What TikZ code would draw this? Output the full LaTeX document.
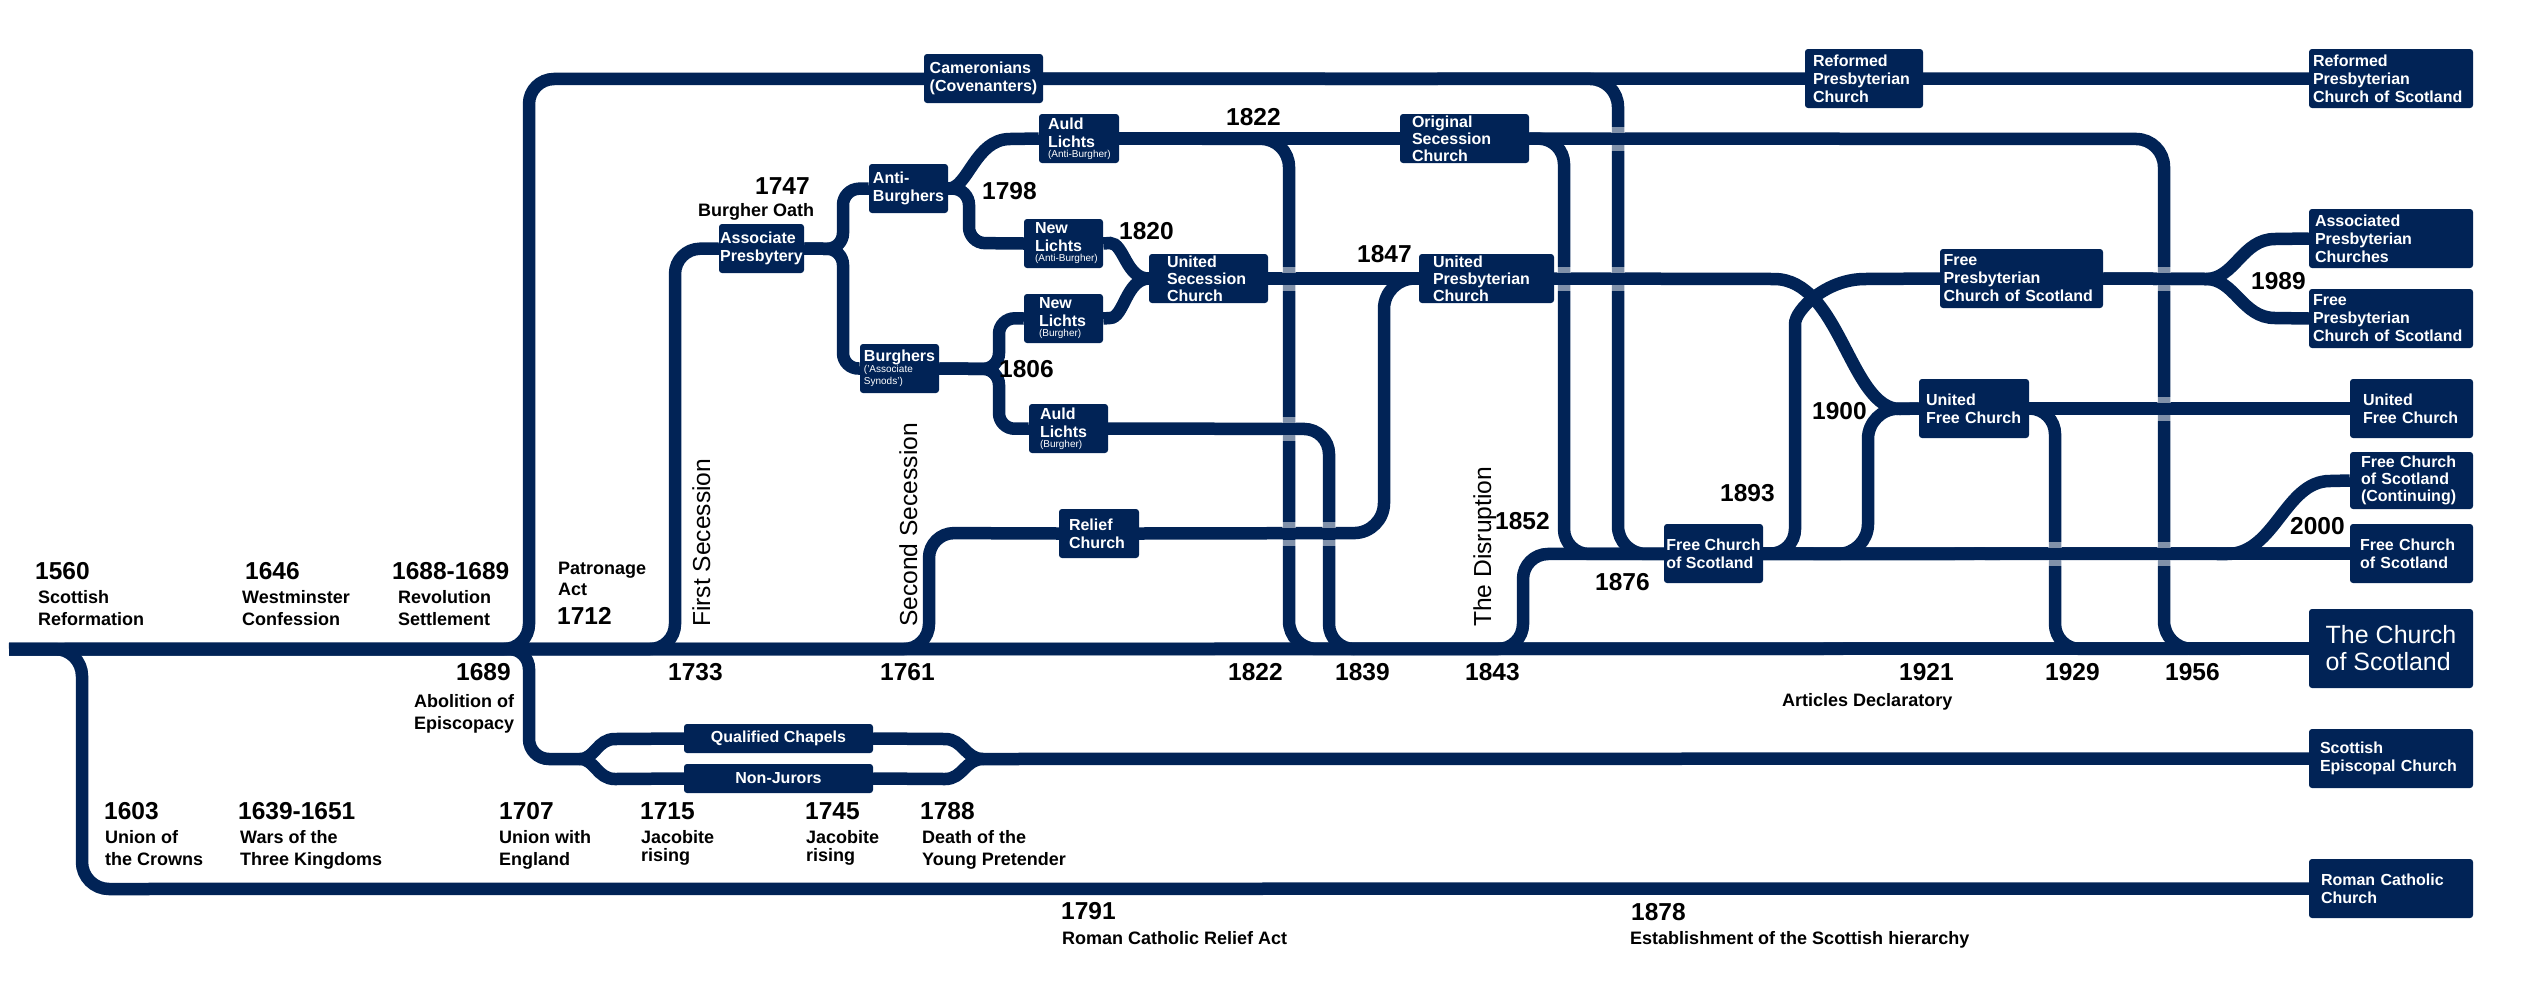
\documentclass[tikz,border=0pt]{standalone}
\usepackage{fontspec}
\setmainfont{Liberation Sans}
\usepackage{tikz}
\usetikzlibrary{positioning,backgrounds}
\definecolor{navy}{RGB}{1,35,86}
\newcommand{\churchnote}[1]{\mbox{\mdseries\fontsize{10}{11}\selectfont #1}}
\hyphenpenalty=10000
\exhyphenpenalty=10000

\begin{document}
\begin{tikzpicture}
  [
    x=1pt, y=-1pt,
    Church/.style={rectangle, rounded corners=3pt, fill=navy, text=white, font=\bfseries\fontsize{16}{18}\selectfont, align=left, inner sep=0pt},
    Year/.style={font=\bfseries\fontsize{24.5}{26}\selectfont, anchor=north west, inner sep=0pt},
    Note/.style={font=\bfseries\fontsize{18}{22.5}\selectfont, anchor=north west, inner sep=0pt, align=left},
    Event/.style={font=\fontsize{24.6}{26}\selectfont, rotate=90, anchor=base west, inner sep=0pt},
    Track/.style={draw=navy, line width=12.5pt},
    Fade/.style={fill=white, fill opacity=0.5}
  ]
  \useasboundingbox (0,0) rectangle (2527,994);

  % Nodes
  \coordinate (start) at (9,649);
  \coordinate (epsplit) at (580,759);
  \coordinate (epjoin) at (983,759);

  \node[Church, minimum width=119, minimum height=49] (cameronians) at (983.5,78.5) {Cameronians\\(Covenanters)};
  \node[Church, minimum width=118, minimum height=59, text width=102] (rpc) at (1864,78.5) {Reformed\\Presbyterian\\Church};
  \node[Church, minimum width=164, minimum height=59, text width=156] (rpcs) at (2391,78.5) {Reformed\\Presbyterian\\Church of Scotland};

  \node[Church, minimum width=85, minimum height=49] (ap) at (761.5,248.5) {Associate\\Presbytery};
  \node[Church, minimum width=79, minimum height=49] (antib) at (908.5,188.5) {Anti-\\Burghers};
  \node[Church, minimum width=79, minimum height=49] (burghers) at (899.5,368.5) {Burghers\\[-7pt]\churchnote{('Associate}\\[-6pt]\churchnote{Synods')}};
  \node[Church, minimum width=80, minimum height=49, text width=62] (alab) at (1079,138.5) {Auld\\Lichts\\[-8pt]\churchnote{(Anti-Burgher)}};
  \node[Church, minimum width=79, minimum height=49, text width=57] (nlab) at (1063.5,243.5) {New\\Lichts\\[-8pt]\churchnote{(Anti-Burgher)}};
  \node[Church, minimum width=79, minimum height=49, text width=49] (nlb) at (1063.5,318.5) {New\\Lichts\\[-8pt]\churchnote{(Burgher)}};
  \node[Church, minimum width=79, minimum height=49, text width=57] (alb) at (1068.5,428.5) {Auld\\Lichts\\[-8pt]\churchnote{(Burgher)}};
  \node[Church, minimum width=119, minimum height=49, text width=83, font=\bfseries\fontsize{16}{17}\selectfont] (usc) at (1208.5,278.5) {United\\Secession\\Church};
  \node[Church, minimum width=129, minimum height=49, text width=105, font=\bfseries\fontsize{16}{17}\selectfont] (osc) at (1464.5,138.5) {Original\\Secession\\Church};
  \node[Church, minimum width=135, minimum height=49, text width=107, font=\bfseries\fontsize{16}{17}\selectfont] (up) at (1486.5,278.5) {United\\Presbyterian\\Church};
  \node[Church, minimum width=80, minimum height=49, text width=60] (relief) at (1099,533.5) {Relief\\Church};
  \node[Church, minimum width=99, minimum height=59] (fc) at (1713.5,553.5) {Free Church\\of Scotland};
  \node[Church, minimum width=163, minimum height=59, text width=156] (fp) at (2021.5,278.5) {Free\\Presbyterian\\Church of Scotland};
  \node[Church, minimum width=110, minimum height=59, text width=96] (ufc) at (1974,408.5) {United\\Free Church};

  \node[Church, minimum width=164, minimum height=59, text width=152] (apc) at (2391,238.5) {Associated\\Presbyterian\\Churches};
  \node[Church, minimum width=164, minimum height=59, text width=156] (fpcs) at (2391,318.5) {Free\\Presbyterian\\Church of Scotland};
  \node[Church, minimum width=123, minimum height=59, text width=97] (ufcr) at (2411.5,408.5) {United\\Free Church};
  \node[Church, minimum width=123, minimum height=57, text width=101, font=\bfseries\fontsize{16}{17}\selectfont] (fcc) at (2411.5,480.5) {Free Church\\of Scotland\\(Continuing)};
  \node[Church, minimum width=123, minimum height=59, text width=103] (fcs) at (2411.5,553.5) {Free Church\\of Scotland};
  \node[Church, minimum width=164, minimum height=79, font=\fontsize{25}{27}\selectfont] (cos) at (2391,648.5) {The Church\\of Scotland};
  \node[Church, minimum width=164, minimum height=59, text width=142] (sec) at (2391,758.5) {Scottish\\Episcopal Church};
  \node[Church, minimum width=164, minimum height=59, text width=140] (rcc) at (2391,888.5) {Roman Catholic\\Church};
  \node[Church, minimum width=189, minimum height=29] (qc) at (778.5,738.5) {Qualified Chapels};
  \node[Church, minimum width=189, minimum height=29] (nj) at (778.5,778.5) {Non-Jurors};

  % Dates above the main line
  \node[Year] (y1560) at (35,562) {1560};
  \node[Note] (n1560) at (38,590) {Scottish\\Reformation};
  \node[Year] (y1646) at (245,562) {1646};
  \node[Note] (n1646) at (242,590) {Westminster\\Confession};
  \node[Year] (y1688) at (392,562) {1688-1689};
  \node[Note] (n1688) at (398,590) {Revolution\\Settlement};
  \node[Note, font=\bfseries\fontsize{18}{21}\selectfont] (n1712) at (558,562) {Patronage\\Act};
  \node[Year] (y1712) at (557,607) {1712};
  \node[Year] (y1747) at (755,177) {1747};
  \node[Note] (n1747) at (698,203) {Burgher Oath};
  \node[Year] (y1798) at (982,182) {1798};
  \node[Year] (y1806) at (999,360) {1806};
  \node[Year] (y1820) at (1119,222) {1820};
  \node[Year] (y1822a) at (1226,108) {1822};
  \node[Year] (y1847) at (1357,245) {1847};
  \node[Year] (y1852) at (1495,512) {1852};
  \node[Year] (y1876) at (1595,573) {1876};
  \node[Year] (y1893) at (1720,484) {1893};
  \node[Year] (y1900) at (1812,402) {1900};
  \node[Year] (y1989) at (2251,272) {1989};
  \node[Year] (y2000) at (2290,517) {2000};

  % Dates below the main line
  \node[Year] (y1689) at (456,663) {1689};
  \node[Note] (n1689) at (414,694) {Abolition of\\Episcopacy};
  \node[Year] (y1733) at (668,663) {1733};
  \node[Year] (y1761) at (880,663) {1761};
  \node[Year] (y1822) at (1228,663) {1822};
  \node[Year] (y1839) at (1335,663) {1839};
  \node[Year] (y1843) at (1465,663) {1843};
  \node[Year] (y1921) at (1899,663) {1921};
  \node[Note] (n1921) at (1782,693) {Articles Declaratory};
  \node[Year] (y1929) at (2045,663) {1929};
  \node[Year] (y1956) at (2165,663) {1956};

  \node[Year] (y1603) at (104,802) {1603};
  \node[Note] (n1603) at (105,830) {Union of\\the Crowns};
  \node[Year] (y1639) at (238,802) {1639-1651};
  \node[Note] (n1639) at (240,830) {Wars of the\\Three Kingdoms};
  \node[Year] (y1707) at (499,802) {1707};
  \node[Note] (n1707) at (499,830) {Union with\\England};
  \node[Year] (y1715) at (640,802) {1715};
  \node[Note, font=\bfseries\fontsize{18}{18.5}\selectfont] (n1715) at (641,830) {Jacobite\\rising};
  \node[Year] (y1745) at (805,802) {1745};
  \node[Note, font=\bfseries\fontsize{18}{18.5}\selectfont] (n1745) at (806,830) {Jacobite\\rising};
  \node[Year] (y1788) at (920,802) {1788};
  \node[Note] (n1788) at (922,830) {Death of the\\Young Pretender};
  \node[Year] (y1791) at (1061,902) {1791};
  \node[Note] (n1791) at (1062,931) {Roman Catholic Relief Act};
  \node[Year] (y1878) at (1631,903) {1878};
  \node[Note] (n1878) at (1630,931) {Establishment of the Scottish hierarchy};

  % Secessions
  \node[Event] (first) at (710,627) {First Secession};
  \node[Event] (second) at (917,627) {Second Secession};
  \node[Event] (disruption) at (1491,627) {The Disruption};

  \begin{scope}[on background layer]
    % main line and its branches
    \draw[Track] (start) -- (cos.west);
    \draw[Track, rounded corners=27] (start) -- (82,649) -- (82,889) -- (rcc.west);
    \draw[Track, rounded corners=25] (start) -- (529,649) -- (529,79) -- (rpcs.west);
    \draw[Track, rounded corners=20] (start) -- (529,649) -- (529,759) -- (epsplit);
    \draw[Track] (epsplit) .. controls (595,759) and (597,739) .. (615,739) -- (qc.west);
    \draw[Track] (epsplit) .. controls (595,759) and (597,779) .. (615,779) -- (nj.west);
    \draw[Track] (qc.east) -- (945,739) .. controls (963,739) and (965,759) .. (epjoin);
    \draw[Track] (nj.east) -- (945,779) .. controls (963,779) and (965,759) .. (epjoin);
    \draw[Track] (epjoin) -- (sec.west);

    % First Secession
    \draw[Track, rounded corners=25] (start) -- (675,649) -- (675,249) -- (ap.west);
    \draw[Track, rounded corners=16] (ap.east) -- (843,249) -- (843,189) -- (antib.west);
    \draw[Track, rounded corners=16] (ap.east) -- (843,249) -- (843,369) -- (burghers.west);
    \draw[Track] (antib.east) .. controls (968,189) and (975,139) .. (1010,139) -- (alab.west);
    \draw[Track, rounded corners=16] (antib.east) -- (969,189) -- (969,243) -- (nlab.west);
    \draw[Track, rounded corners=16] (burghers.east) -- (999,369) -- (999,318) -- (nlb.west);
    \draw[Track, rounded corners=16] (burghers.east) -- (999,369) -- (999,429) -- (alb.west);
    \draw[Track] (nlab.east) -- (1110,243) .. controls (1124,243) and (1126,279) .. (usc.west);
    \draw[Track] (nlb.east) -- (1110,318) .. controls (1124,318) and (1126,279) .. (usc.west);
    \draw[Track] (usc.east) -- (up.west);
    \draw[Track] (alab.east) -- (osc.west);
    \draw[Track, rounded corners=28] (alab.east) -- (1289,139) -- (1289,649) -- (cos.west);
    \draw[Track, rounded corners=25] (alb.east) -- (1329,429) -- (1329,649) -- (cos.west);
    \draw[Track, rounded corners=28] (osc.east) -- (2164,139) -- (2164,649) -- (cos.west);
    \draw[Track, rounded corners=25] (osc.east) -- (1564,139) -- (1564,554) -- (fcs.west);
    \draw[Track, rounded corners=28] (cameronians.east) -- (1618,79) -- (1618,554) -- (fcs.west);

    % Second Secession
    \draw[Track, rounded corners=25] (start) -- (929,649) -- (929,533) -- (relief.west);
    \draw[Track, rounded corners=30] (relief.east) -- (1384,533) -- (1384,279) -- (up.west);

    % The Disruption
    \draw[Track, rounded corners=25] (start) -- (1523,649) -- (1523,554) -- (fcs.west);
    \draw[Track] (fc.east) [rounded corners=25] -- (1795,554) -- (1795,349) [sharp corners] .. controls (1795,310) and (1826,279) .. (1865,279) -- (fp.west);
    \draw[Track] (up.east) -- (1774,279) .. controls (1840,279) and (1850,409) .. (1900,409) -- (ufc.west);
    \draw[Track, rounded corners=30] (fc.east) -- (1868,554) -- (1868,409) -- (ufc.west);
    \draw[Track] (fc.east) -- (2227,554) .. controls (2275,554) and (2285,481) .. (2330,481) -- (fcc.west);
    \draw[Track] (fp.east) -- (2206,279) .. controls (2235,279) and (2242,239) .. (2275,239) -- (apc.west);
    \draw[Track] (fp.east) -- (2206,279) .. controls (2235,279) and (2242,318) .. (2275,318) -- (fpcs.west);
    \draw[Track] (ufc.east) -- (ufcr.west);
    \draw[Track, rounded corners=25] (ufc.east) -- (2055,409) -- (2055,649) -- (cos.west);

    % crossings
    \foreach \cx/\cy in {1289/279, 1289/429, 1289/534, 1329/534, 1564/279, 1618/139, 1618/279, 2055/554, 2164/279, 2164/409, 2164/554}
    {
      \fill[Fade] ({\cx-7},{\cy-12}) rectangle ({\cx+7},{\cy-6});
      \fill[Fade] ({\cx-7},{\cy+6}) rectangle ({\cx+7},{\cy+12});
    }
  \end{scope}

\end{tikzpicture}
\end{document}
